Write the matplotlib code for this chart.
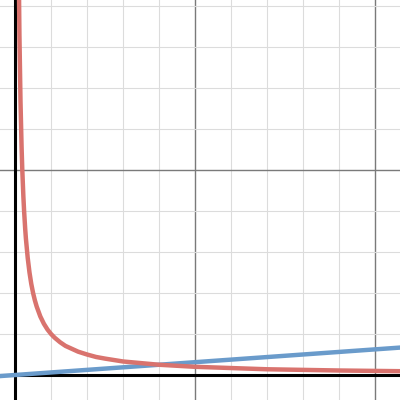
import matplotlib
matplotlib.use("Agg")
import matplotlib.pyplot as plt

# red curve points
red_x = [0.1, 0.12, 0.15, 0.18, 0.2, 0.23, 0.25, 0.28, 0.3, 0.35, 0.4, 0.45, 0.5,
         0.55, 0.6, 0.7, 0.8, 0.9, 1.0, 1.1, 1.25, 1.4, 1.5, 1.75, 2.0, 2.25,
         2.5, 3.0, 3.5, 4.0, 5.0, 6.0, 7.0, 8.0, 9.0, 10.0, 11.0]
red_y = [10.0, 8.3, 6.67, 5.56, 5.0, 4.35, 4.0, 3.57, 3.33, 2.86, 2.5, 2.22, 2.0,
         1.82, 1.67, 1.43, 1.25, 1.11, 1.0, 0.91, 0.8, 0.71, 0.67, 0.57, 0.5, 0.44,
         0.4, 0.33, 0.29, 0.25, 0.2, 0.17, 0.14, 0.125, 0.11, 0.1, 0.09]
# blue line
blue_x = [-1.0, 0.0, 11.0]
blue_y = [-0.0625, 0.0, 0.6875]

xmin, xmax = -0.42, 10.7
ymin, ymax = -0.61, 9.15

fig = plt.figure(figsize=(4, 4), dpi=100)
ax = fig.add_axes([0, 0, 1, 1])
ax.set_xlim(xmin, xmax)
ax.set_ylim(ymin, ymax)

for v in range(0, 11):
    major = v % 5 == 0
    ax.axvline(v, color="#7a7a7a" if major else "#dcdcdc", lw=1.0 if major else 0.8, zorder=0)
for v in range(0, 10):
    major = v % 5 == 0
    ax.axhline(v, color="#7a7a7a" if major else "#dcdcdc", lw=1.0 if major else 0.8, zorder=0)
ax.axvline(0, color="black", lw=2.2, zorder=1)
ax.axhline(0, color="black", lw=2.2, zorder=1)

ax.plot(blue_x, blue_y, color="#6a9bcb", lw=3.2, zorder=3, solid_capstyle="butt")
ax.plot(red_x, red_y, color="#d9736e", lw=3.2, zorder=4)

ax.set_xticks([])
ax.set_yticks([])
for s in ax.spines.values():
    s.set_visible(False)

fig.savefig("out.png")
